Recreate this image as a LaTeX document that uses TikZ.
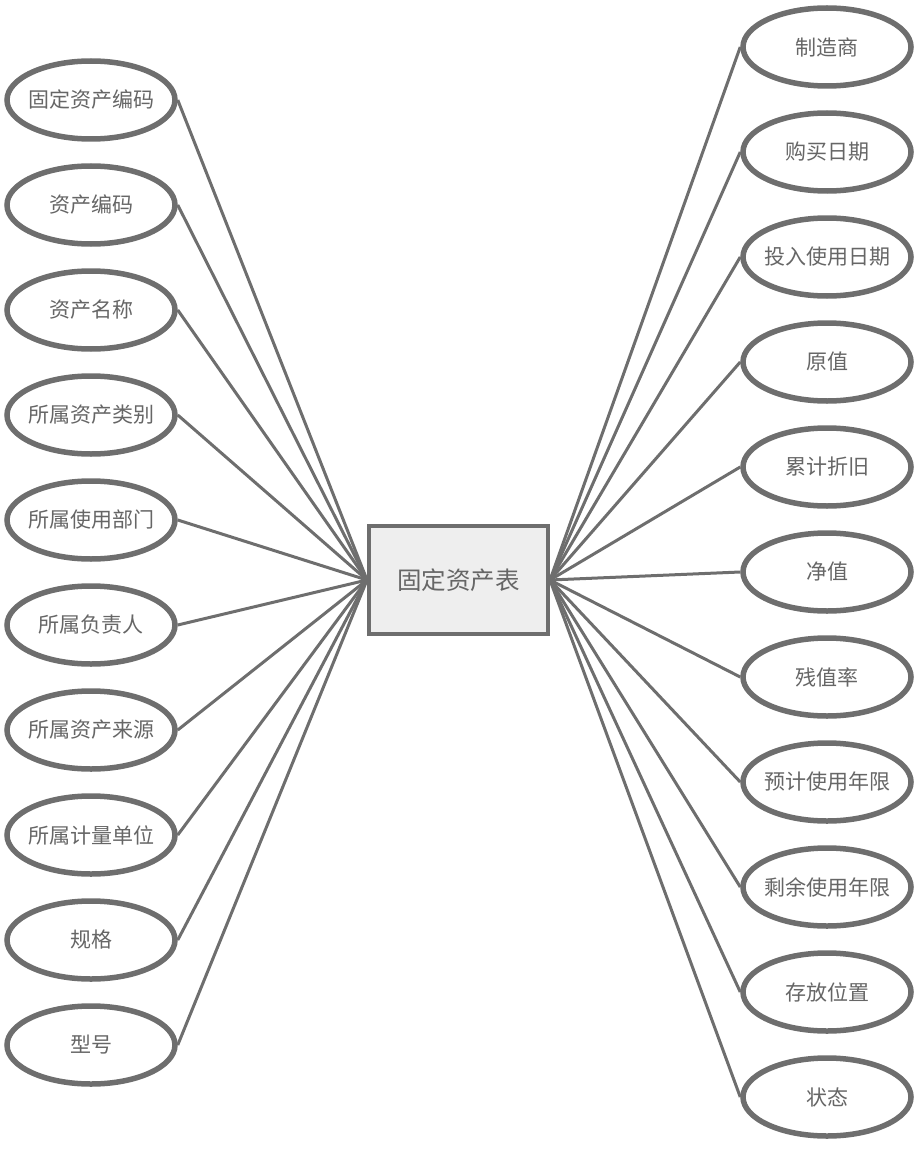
\documentclass[tikz,border=0pt]{standalone}
\usepackage{fontspec}
\setmainfont{Noto Sans CJK SC}
\usetikzlibrary{shapes.geometric}
\definecolor{edge}{HTML}{6E6E6E}
\definecolor{txt}{HTML}{666666}
\definecolor{boxfill}{HTML}{EEEEEE}
\begin{document}
\begin{tikzpicture}[x=1pt,y=-1pt,
  attr/.style={ellipse,draw=edge,line width=5.5pt,fill=white,minimum width=168pt,minimum height=78pt,inner sep=0pt,text=txt,font=\fontsize{21}{25}\selectfont},
  ent/.style={rectangle,draw=edge,line width=4pt,fill=boxfill,minimum width=179pt,minimum height=108pt,inner sep=0pt,text=txt,font=\fontsize{24.5}{28}\selectfont},
  link/.style={draw=edge,line width=3pt}]
\useasboundingbox (0,0) rectangle (917,1161);
\node[ent] (c) at (458.5,580) {固定资产表};
\foreach \i/\t in {0/固定资产编码,1/资产编码,2/资产名称,3/所属资产类别,4/所属使用部门,5/所属负责人,6/所属资产来源,7/所属计量单位,8/规格,9/型号}{
  \node[attr] (l\i) at (91,100+105*\i) {\makebox[0pt]{\t}};
  \draw[link] (l\i.east) -- (c.west);
}
\foreach \i/\t in {0/制造商,1/购买日期,2/投入使用日期,3/原值,4/累计折旧,5/净值,6/残值率,7/预计使用年限,8/剩余使用年限,9/存放位置,10/状态}{
  \node[attr] (r\i) at (827,47+105*\i) {\makebox[0pt]{\t}};
  \draw[link] (r\i.west) -- (c.east);
}
\end{tikzpicture}
\end{document}
